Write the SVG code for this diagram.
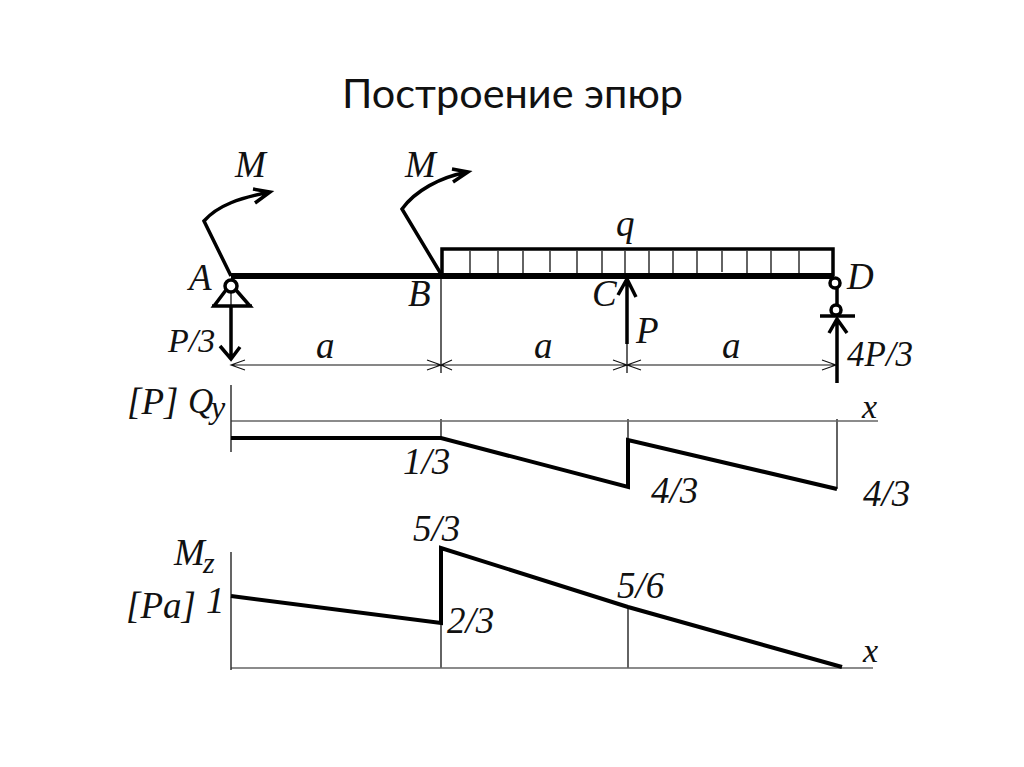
<svg xmlns="http://www.w3.org/2000/svg" width="1024" height="767" viewBox="0 0 1024 767">
<style>
.t{font-family:"Liberation Serif",serif;font-style:italic;font-size:37px;fill:#111}
.thin{fill:none;stroke:#111;stroke-width:1.3}
.ax{fill:none;stroke:#666;stroke-width:1.4}
.ay{fill:none;stroke:#333;stroke-width:1.5}
.mid{fill:none;stroke:#000;stroke-width:3.5}
.thick{fill:none;stroke:#000;stroke-width:6}
.dim{fill:none;stroke:#111;stroke-width:1.1}
.ep{fill:none;stroke:#000;stroke-width:4}
.hinge{fill:#fff;stroke:#000;stroke-width:3.5}
</style>
<rect width="1024" height="767" fill="#fff"/>
<text id="title" x="512.5" y="108" text-anchor="middle" font-family="Lato,'Open Sans',sans-serif" font-size="40" fill="#111" textLength="341" lengthAdjust="spacingAndGlyphs">Построение эпюр</text>
<g id="connectors">
<path class="thin" d="M441 276V373M627 300V373M441 419V438M628 419V440M837 419V489M441 623V668M628 607V668M231 292V306"/>
<path class="dim" d="M231 365H836M245 360L231 365L245 370M427 360L441 365L427 370M452 360L441 365L452 370M613 360L627 365L613 370M641 360L627 365L641 370M822 360L836 365L822 370"/>
<path class="mid" d="M231 276L204 221C218 205 240 198 270 192M253 189L270 192L255 203"/>
<path class="mid" d="M441 274L402 209C415 191 440 177 468 172M452 169L468 172L453 182"/>
<path class="mid" d="M231 306V359M220 346L231 359L240 347"/>
<path class="mid" d="M627 344V280M618 295L627 279L636 297"/>
<path class="mid" d="M837 383V320M829 333L837 319L847 333"/>
<path class="mid" d="M837 288V312"/>
<path class="thin" d="M470 251V274M498 251V274M523 251V274M550 251V272M577 251V274M602 251V274M625 251V274M649 251V274M673 251V274M697 251V274M722 251V272M747 251V274M771 251V274M799 251V274"/>
<path class="ax" d="M231 421H878M231 668H873"/>
<path class="ay" d="M231 385V452M231 552V670"/>
<path class="ep" d="M231 438H441L628 487V440L837 489"/>
<path class="ep" d="M231 596L441 623V548L628 607L842 667"/>
</g>
<g id="beam">
<path class="thick" d="M231 276H834"/>
<path class="mid" d="M442 274V249H833V276"/>
</g>
<g id="support-a">
<path class="mid" d="M226 290L214 306H250L236 290M212 306H252"/>
<circle class="hinge" cx="231" cy="286" r="6"/>
</g>
<g id="support-d">
<path class="mid" d="M820 316H855"/>
<circle class="hinge" cx="835" cy="283" r="5"/>
<circle class="hinge" cx="836" cy="310" r="5"/>
</g>
<g id="labels">
<text class="t" x="235" y="177">M</text>
<text class="t" x="405" y="177">M</text>
<text class="t" x="189" y="290">A</text>
<text class="t" x="408" y="306">B</text>
<text class="t" x="592" y="306">C</text>
<text class="t" x="847" y="289">D</text>
<text class="t" x="616" y="236">q</text>
<text class="t" x="168" y="352" style="font-size:34px">P/3</text>
<text class="t" x="636" y="343">P</text>
<text class="t" x="847" y="366" style="font-size:35px">4P/3</text>
<text class="t" x="316" y="358">a</text>
<text class="t" x="534" y="358">a</text>
<text class="t" x="722" y="358">a</text>
<text class="t" x="127" y="414">[P]</text>
<text class="t" x="188" y="413" style="font-size:35px">Q</text>
<text class="t" x="211" y="418" style="font-size:32px">y</text>
<text class="t" x="862" y="418" style="font-size:34px">x</text>
<text class="t" x="403" y="474">1/3</text>
<text class="t" x="651" y="503">4/3</text>
<text class="t" x="863" y="506">4/3</text>
<text class="t" x="413" y="541">5/3</text>
<text class="t" x="617" y="598">5/6</text>
<text class="t" x="447" y="633">2/3</text>
<text class="t" x="174" y="565">M</text>
<text class="t" x="203" y="573" style="font-size:30px">z</text>
<text class="t" x="126" y="618">[Pa]</text>
<text class="t" x="206" y="613">1</text>
<text class="t" x="863" y="662" style="font-size:34px">x</text>
</g>
</svg>
